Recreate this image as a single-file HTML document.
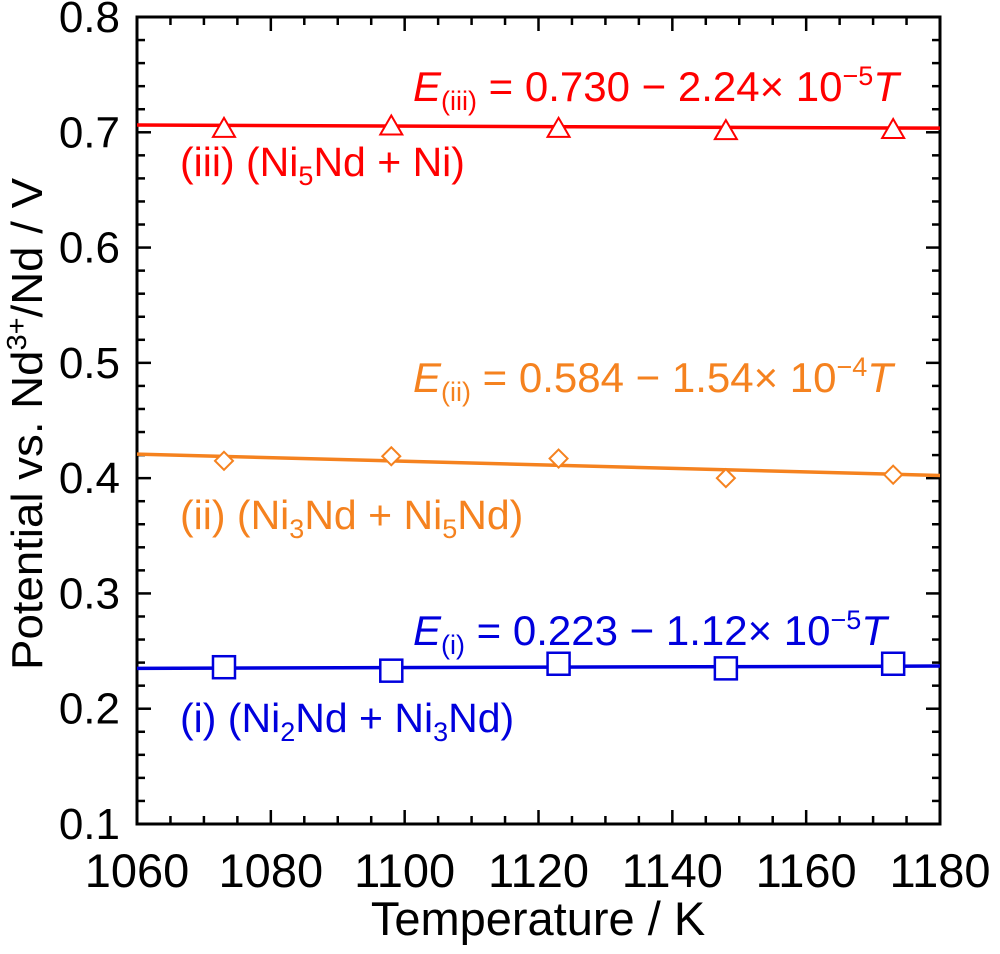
<!DOCTYPE html>
<html><head><meta charset="utf-8"><style>
body{margin:0;background:#fff;}
svg text{font-family:"Liberation Sans",Arial,sans-serif;}
</style></head><body>
<svg id="c" width="1000" height="949" viewBox="0 0 1000 949" xmlns="http://www.w3.org/2000/svg">
<g id="axes"></g><g id="marks"></g>
<text x="538" y="935" font-size="47" text-anchor="middle">Temperature / K</text>
<text transform="translate(42,424) rotate(-90)" font-size="44" text-anchor="middle" textLength="492" lengthAdjust="spacingAndGlyphs">Potential vs. Nd<tspan font-size="28" dy="-16">3+</tspan><tspan dy="16">/Nd / V</tspan></text>
<text x="413" y="101" font-size="42" fill="#ff0000"><tspan font-style="italic">E</tspan><tspan font-size="27" dy="9">(iii)</tspan><tspan dy="-9"> = 0.730 − 2.24× 10</tspan><tspan font-size="27" dy="-16">−5</tspan><tspan dy="16" font-style="italic">T</tspan></text>
<text x="180" y="176" font-size="41" fill="#ff0000">(iii) (Ni<tspan font-size="27" dy="9">5</tspan><tspan dy="-9">Nd + Ni)</tspan></text>
<text x="413" y="392" font-size="42" fill="#f5821f"><tspan font-style="italic">E</tspan><tspan font-size="27" dy="9">(ii)</tspan><tspan dy="-9"> = 0.584 − 1.54× 10</tspan><tspan font-size="27" dy="-16">−4</tspan><tspan dy="16" font-style="italic">T</tspan></text>
<text x="180" y="529" font-size="41" fill="#f5821f">(ii) (Ni<tspan font-size="27" dy="9">3</tspan><tspan dy="-9">Nd + Ni</tspan><tspan font-size="27" dy="9">5</tspan><tspan dy="-9">Nd)</tspan></text>
<text x="413" y="645" font-size="42" fill="#0000dd"><tspan font-style="italic">E</tspan><tspan font-size="27" dy="9">(i)</tspan><tspan dy="-9"> = 0.223 − 1.12× 10</tspan><tspan font-size="27" dy="-16">−5</tspan><tspan dy="16" font-style="italic">T</tspan></text>
<text x="180" y="732" font-size="41" fill="#0000dd">(i) (Ni<tspan font-size="27" dy="9">2</tspan><tspan dy="-9">Nd + Ni</tspan><tspan font-size="27" dy="9">3</tspan><tspan dy="-9">Nd)</tspan></text>
</svg>
<script>
const temps=[1073,1098,1123,1148,1173];
const seriesIII=[0.703,0.705,0.703,0.701,0.702];
const seriesII=[0.415,0.419,0.417,0.400,0.403];
const seriesI=[0.236,0.233,0.239,0.235,0.239];
const fitIII=[0.7063,0.7036];
const fitII=[0.4208,0.4023];
const fitI=[0.235,0.237];
const fitT=[1060,1180];
const xTicks=[1060,1080,1100,1120,1140,1160,1180];
const yTicks=[0.1,0.2,0.3,0.4,0.5,0.6,0.7,0.8];
const X0=137,X1=940,Y0=824,Y1=17;
const sx=t=>X0+(t-1060)/120*(X1-X0);
const sy=v=>Y0-(v-0.1)/0.7*(Y0-Y1);
const NS="http://www.w3.org/2000/svg";
function mk(tag,attrs,parent){const e=document.createElementNS(NS,tag);for(const k in attrs)e.setAttribute(k,attrs[k]);parent.appendChild(e);return e;}
const ax=document.getElementById('axes'),mg=document.getElementById('marks');
const fr=mk('rect',{x:X0,y:Y1,width:X1-X0,height:Y0-Y1,fill:'none',stroke:'#000','stroke-width':3},ax);


for(let t=1060;t<=1180;t+=5){const maj=(t-1060)%20===0;const L=maj?14:8;const x=sx(t);
mk('line',{x1:x,x2:x,y1:Y0,y2:Y0-L,stroke:'#000','stroke-width':2.5},ax);
mk('line',{x1:x,x2:x,y1:Y1,y2:Y1+L,stroke:'#000','stroke-width':2.5},ax);}
for(let i=0;i<=35;i++){const v=0.1+i*0.02;const maj=i%5===0;const L=maj?14:8;const y=sy(v);
mk('line',{x1:X0,x2:X0+L,y1:y,y2:y,stroke:'#000','stroke-width':2.5},ax);
mk('line',{x1:X1,x2:X1-L,y1:y,y2:y,stroke:'#000','stroke-width':2.5},ax);}
xTicks.forEach(t=>{const e=mk('text',{x:sx(t),y:887,'font-size':47,'text-anchor':'middle'},ax);e.textContent=t;

});
yTicks.forEach(v=>{const e=mk('text',{x:120,y:sy(v)+15,'font-size':44,'text-anchor':'end'},ax);e.textContent=v.toFixed(1);

});
function series(vals,fit,color,shape,name,lw){
const l=mk('line',{x1:sx(fitT[0]),x2:sx(fitT[1]),y1:sy(fit[0]),y2:sy(fit[1]),stroke:color,'stroke-width':lw},mg);


vals.forEach((v,i)=>{const x=sx(temps[i]),y=sy(v);let e;
if(shape==='tri')e=mk('polygon',{points:`${x},${y-11} ${x-11},${y+8} ${x+11},${y+8}`,fill:'#fff',stroke:color,'stroke-width':2},mg);
else if(shape==='dia')e=mk('polygon',{points:`${x},${y-9} ${x+9},${y} ${x},${y+9} ${x-9},${y}`,fill:'#fff',stroke:color,'stroke-width':2},mg);
else e=mk('rect',{x:x-11,y:y-11,width:22,height:22,fill:'#fff',stroke:color,'stroke-width':2.5},mg);

});}
series(seriesIII,fitIII,'#ff0000','tri','series-iii',3.5);
series(seriesII,fitII,'#f5821f','dia','series-ii',3.5);
series(seriesI,fitI,'#0000dd','sq','series-i',3.5);
</script>
</body></html>
